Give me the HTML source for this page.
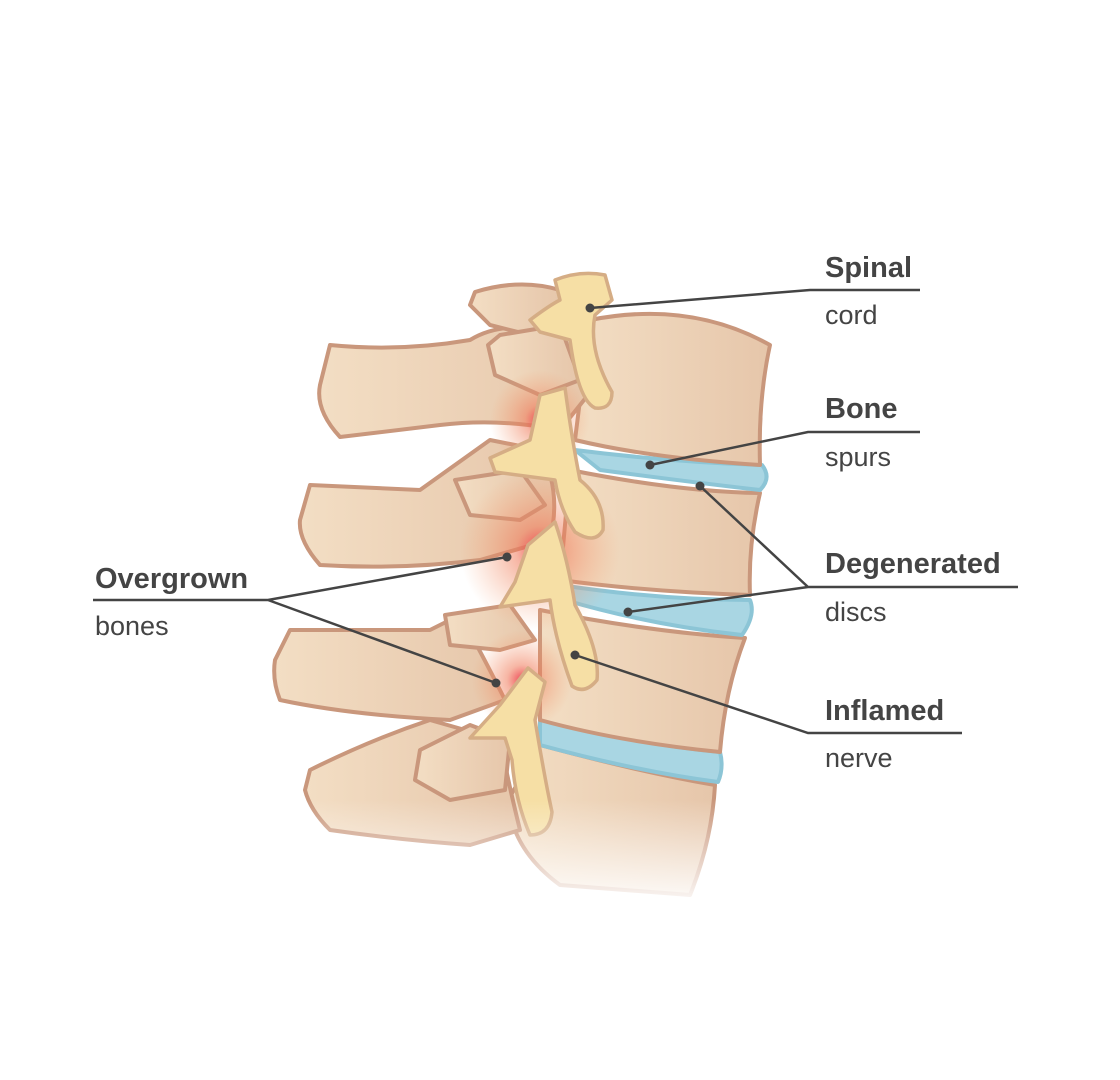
<!DOCTYPE html>
<html><head><style>
body{margin:0;background:#fff;width:1120px;height:1080px;overflow:hidden}
svg{position:absolute;left:0;top:0}
.b{font:bold 29px "Liberation Sans",sans-serif;fill:#444}
.n{font:27px "Liberation Sans",sans-serif;fill:#444}
</style></head><body>
<svg width="1120" height="1080" viewBox="0 0 1120 1080">
<defs>
<radialGradient id="r" cx="50%" cy="50%" r="50%"><stop offset="0" stop-color="#ee3a4f" stop-opacity=".95"/><stop offset=".3" stop-color="#f07a5a" stop-opacity=".55"/><stop offset="1" stop-color="#f5a070" stop-opacity="0"/></radialGradient>
<linearGradient id="f" x1="0" y1="0" x2="0" y2="1"><stop offset="0" stop-color="#fff" stop-opacity="0"/><stop offset="1" stop-color="#fff" stop-opacity="1"/></linearGradient>
<linearGradient id="bn" x1="0" y1="0" x2="1" y2="0"><stop offset="0" stop-color="#f3dec4"/><stop offset="1" stop-color="#e6c6aa"/></linearGradient>
</defs>
<g stroke="#c9977c" stroke-width="4" stroke-linejoin="round" fill="url(#bn)">
<path d="M540,745 Q640,772 715,785 Q712,840 690,895 L560,885 Q512,850 508,800 Z"/>
<path fill="#a9d6e3" stroke="#8cc5d6" d="M540,718 Q640,745 720,752 Q724,768 718,782 Q640,772 540,745 Z"/>
<path d="M540,610 Q650,632 745,638 Q725,690 720,752 Q620,742 540,720 Z"/>
<path fill="#a9d6e3" stroke="#8cc5d6" d="M560,585 Q660,600 750,600 Q756,615 742,635 Q650,625 565,600 Z"/>
<path d="M570,470 Q680,492 760,493 Q748,545 750,595 Q650,592 560,580 Z"/>
<path fill="#a9d6e3" stroke="#8cc5d6" d="M575,450 Q670,462 762,465 Q772,478 760,490 Q690,482 600,470 Z"/>
<path d="M590,320 Q690,300 770,345 Q758,400 760,465 Q650,458 575,440 Z"/>
<path d="M310,770 Q370,740 430,720 L500,740 Q510,790 520,830 L470,845 Q400,840 330,830 Q310,810 305,790 Z"/>
<path d="M290,630 L430,630 L460,615 Q480,650 505,700 L450,720 Q350,715 280,700 Q272,680 275,660 Z"/>
<path d="M310,485 L420,490 L490,440 L540,450 Q562,490 550,540 L480,560 Q400,570 320,565 Q298,540 300,520 Z"/>
<path d="M330,345 Q400,352 470,340 Q500,322 540,330 Q590,360 600,380 L560,430 Q500,418 440,425 Q380,432 340,437 Q315,410 320,385 Z"/>
<path d="M475,292 Q520,278 560,290 L560,320 L530,335 L490,325 L470,305 Z"/>
<path d="M500,335 L560,325 L580,380 L540,395 L495,375 L488,345 Z"/>
<path d="M455,480 L520,470 L545,505 L520,520 L470,515 Z"/>
<path d="M445,615 L510,605 L535,640 L500,650 L450,645 Z"/>
<path d="M420,750 L470,725 L510,740 L505,790 L450,800 L415,780 Z"/>
</g>
<circle cx="540" cy="420" r="50" fill="url(#r)"/>
<circle cx="540" cy="550" r="80" fill="url(#r)"/>
<circle cx="522" cy="680" r="50" fill="url(#r)"/>
<g fill="#f6dfa5" stroke="#d5ad85" stroke-width="3.5" stroke-linejoin="round">
<path d="M530,320 Q550,305 560,300 L555,280 Q580,270 605,275 L612,300 L595,315 Q588,350 612,392 Q612,410 595,408 Q578,400 570,340 L540,332 Z"/>
<path d="M540,395 L565,388 Q572,440 580,480 Q605,500 603,530 Q595,545 575,532 Q560,510 555,480 L495,472 L490,458 L530,440 Z"/>
<path d="M528,545 L555,522 Q568,560 575,605 Q600,650 597,680 Q585,695 572,686 Q555,640 550,600 L500,607 L515,582 Z"/>
<path d="M470,738 L500,705 L528,668 L545,682 L535,720 Q545,780 552,812 Q550,835 530,835 Q515,800 512,760 L505,738 Z"/>
</g>
<rect x="250" y="800" width="500" height="110" fill="url(#f)"/>
<g stroke="#444" stroke-width="2.5" fill="none">
<path d="M590,308 L810,290 L920,290"/>
<path d="M650,465 L808,432 L920,432"/>
<path d="M700,486 L808,587 M628,612 L808,587 L1018,587"/>
<path d="M575,655 L808,733 L962,733"/>
<path d="M507,557 L268,600 L93,600 M268,600 L496,683"/>
</g>
<g fill="#444"><circle cx="590" cy="308" r="4.5"/><circle cx="650" cy="465" r="4.5"/><circle cx="700" cy="486" r="4.5"/><circle cx="628" cy="612" r="4.5"/><circle cx="575" cy="655" r="4.5"/><circle cx="507" cy="557" r="4.5"/><circle cx="496" cy="683" r="4.5"/></g>
<text class="b" x="825" y="277">Spinal</text><text class="n" x="825" y="324">cord</text>
<text class="b" x="825" y="418">Bone</text><text class="n" x="825" y="466">spurs</text>
<text class="b" x="825" y="573">Degenerated</text><text class="n" x="825" y="621">discs</text>
<text class="b" x="825" y="720">Inflamed</text><text class="n" x="825" y="767">nerve</text>
<text class="b" x="95" y="588">Overgrown</text><text class="n" x="95" y="635">bones</text>
</svg>
</body></html>
